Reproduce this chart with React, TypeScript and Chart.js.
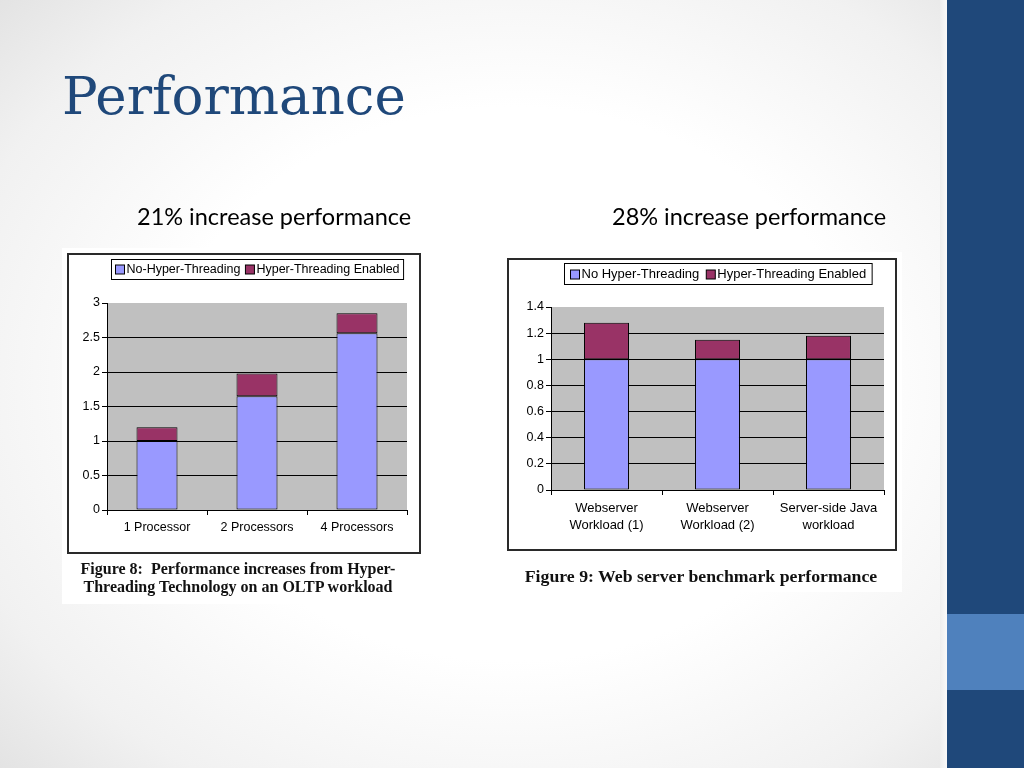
import React, { useEffect, useRef } from "react";
import { Chart, registerables } from "chart.js";

Chart.register(...registerables);

// ---- Data ----
const procCategories = ["1 Processor", "2 Processors", "4 Processors"];
const procNoHT = [1.0, 1.65, 2.56];
const procHTGain = [0.2, 0.33, 0.29];
const procLegend = ["No-Hyper-Threading", "Hyper-Threading Enabled"];
const procYMax = 3;
const procYStep = 0.5;

const webCategories = [
  ["Webserver", "Workload (1)"],
  ["Webserver", "Workload (2)"],
  ["Server-side Java", "workload"],
];
const webNoHT = [1.0, 1.0, 1.0];
const webHTGain = [0.28, 0.15, 0.18];
const webLegend = ["No Hyper-Threading", "Hyper-Threading Enabled"];
const webYMax = 1.4;
const webYStep = 0.2;

const BLUE = "#9999ff";
const MAROON = "#993366";
const FONT = "'Liberation Sans', Arial, sans-serif";

const plotBgPlugin = {
  id: "plotBg",
  beforeDraw(chart: any) {
    const { ctx, chartArea } = chart;
    ctx.save();
    ctx.fillStyle = "#c0c0c0";
    ctx.fillRect(chartArea.left, chartArea.top, chartArea.right - chartArea.left, chartArea.bottom - chartArea.top);
    ctx.restore();
  },
};

const boxLegendPlugin = {
  id: "boxLegend",
  afterDraw(chart: any, _args: any, opts: any) {
    const { ctx, chartArea } = chart;
    const ds = chart.data.datasets;
    ctx.save();
    ctx.font = `${opts.fontSize}px ${FONT}`;
    const pad = opts.pad, sw = 9, gap = 2, itemGap = opts.itemGap;
    const widths = ds.map((d: any) => ctx.measureText(d.label).width);
    let total = pad * 2;
    widths.forEach((w: number, i: number) => {
      total += sw + gap + w + (i < widths.length - 1 ? itemGap : 0);
    });
    const cx = (chartArea.left + chartArea.right) / 2;
    const x0 = Math.round(cx - total / 2) + 0.5;
    const y0 = opts.top + 0.5;
    const h = opts.height;
    ctx.lineWidth = 1;
    ctx.strokeStyle = "#000";
    ctx.fillStyle = "#fff";
    ctx.fillRect(x0, y0, total, h);
    ctx.strokeRect(x0, y0, total, h);
    let x = x0 + pad;
    const midY = y0 + h / 2;
    ds.forEach((d: any, i: number) => {
      ctx.fillStyle = d.backgroundColor;
      ctx.fillRect(x, Math.round(midY - sw / 2), sw, sw);
      ctx.strokeStyle = "#000";
      ctx.strokeRect(x, Math.round(midY - sw / 2), sw, sw);
      x += sw + gap;
      ctx.fillStyle = "#000";
      ctx.textBaseline = "middle";
      ctx.textAlign = "left";
      ctx.fillText(d.label, x, midY + 0.5);
      x += widths[i] + itemGap;
    });
    ctx.restore();
  },
};

function makeConfig(p: {
  labels: any[];
  base: number[];
  gain: number[];
  legend: string[];
  yMax: number;
  yStep: number;
  yWidth: number;
  xHeight: number;
  top: number;
  right: number;
  barPct: number;
  legendTop: number;
  legendHeight: number;
  legendFont: number;
  legendPad: number;
  legendGap: number;
  xPad: number;
  xFont: number;
  xLineHeight: number;
}) {
  return {
    type: "bar" as const,
    data: {
      labels: p.labels,
      datasets: [
        {
          label: p.legend[0],
          data: p.base,
          backgroundColor: BLUE,
          borderColor: "#000",
          borderWidth: 1,
          borderSkipped: false,
          barPercentage: p.barPct,
          categoryPercentage: 1,
        },
        {
          label: p.legend[1],
          data: p.gain,
          backgroundColor: MAROON,
          borderColor: "#000",
          borderWidth: 1,
          borderSkipped: false,
          barPercentage: p.barPct,
          categoryPercentage: 1,
        },
      ],
    },
    options: {
      animation: false,
      responsive: false,
      maintainAspectRatio: false,
      layout: { padding: { top: p.top, right: p.right, left: 0, bottom: 0 } },
      plugins: {
        legend: { display: false },
        tooltip: { enabled: false },
        boxLegend: {
          top: p.legendTop,
          height: p.legendHeight,
          fontSize: p.legendFont,
          pad: p.legendPad,
          itemGap: p.legendGap,
        },
      },
      scales: {
        x: {
          stacked: true,
          afterFit: (s: any) => {
            s.height = p.xHeight;
          },
          grid: {
            offset: true,
            drawOnChartArea: false,
            drawTicks: true,
            tickLength: 5,
            color: "#000",
            tickColor: "#000",
          },
          border: { display: true, color: "#000", width: 1 },
          ticks: {
            color: "#000",
            padding: p.xPad,
            maxRotation: 0,
            autoSkip: false,
            font: { family: FONT, size: p.xFont, lineHeight: p.xLineHeight },
          },
        },
        y: {
          stacked: true,
          min: 0,
          max: p.yMax,
          afterFit: (s: any) => {
            s.width = p.yWidth;
          },
          grid: {
            color: (c: any) => (c.tick && Math.abs(c.tick.value - p.yMax) < 1e-9 ? "rgba(0,0,0,0)" : "#000"),
            tickColor: "#000",
            tickLength: 5,
            lineWidth: 1,
          },
          border: { display: true, color: "#000", width: 1 },
          ticks: {
            stepSize: p.yStep,
            color: "#000",
            padding: 2,
            font: { family: FONT, size: 12.5 },
            callback: (v: any) => String(Math.round(Number(v) * 10) / 10),
          },
        },
      },
    },
    plugins: [plotBgPlugin, boxLegendPlugin],
  };
}

function BarChart(props: { width: number; height: number; config: any }) {
  const ref = useRef<HTMLCanvasElement>(null);
  useEffect(() => {
    if (!ref.current) return;
    const chart = new Chart(ref.current, props.config);
    return () => chart.destroy();
  }, []);
  return <canvas ref={ref} width={props.width} height={props.height} style={{ display: "block", width: props.width, height: props.height }} />;
}

export default function App() {
  const cfg1 = makeConfig({
    labels: procCategories,
    base: procNoHT,
    gain: procHTGain,
    legend: procLegend,
    yMax: procYMax,
    yStep: procYStep,
    yWidth: 38,
    xHeight: 42,
    top: 48,
    right: 12,
    barPct: 0.41,
    legendTop: 4,
    legendHeight: 20,
    legendFont: 12.5,
    legendPad: 4,
    legendGap: 5,
    xPad: 5,
    xFont: 12.5,
    xLineHeight: 1.2,
  });
  const cfg2 = makeConfig({
    labels: webCategories,
    base: webNoHT,
    gain: webHTGain,
    legend: webLegend,
    yMax: webYMax,
    yStep: webYStep,
    yWidth: 42,
    xHeight: 59,
    top: 47,
    right: 11,
    barPct: 0.405,
    legendTop: 3,
    legendHeight: 21,
    legendFont: 13,
    legendPad: 6,
    legendGap: 7,
    xPad: 5,
    xFont: 13,
    xLineHeight: 1.31,
  });

  return (
    <div
      style={{
        position: "fixed",
        left: 0,
        top: 0,
        width: 1024,
        height: 768,
        overflow: "hidden",
        background: "radial-gradient(ellipse 75% 80% at 50% 50%, #ffffff 45%, #f1f1f1 75%, #dcdcdc 100%)",
      }}
    >
      {/* right sidebar */}
      <div style={{ position: "absolute", left: 940, top: 0, width: 7, height: 768, background: "linear-gradient(to right, #eeeeee, #fafafa)" }} />
      <div style={{ position: "absolute", left: 947, top: 0, width: 77, height: 768, background: "#1f487a" }} />
      <div style={{ position: "absolute", left: 947, top: 614, width: 77, height: 76, background: "#4f81bd" }} />

      {/* title */}
      <div
        style={{
          position: "absolute",
          left: 62,
          top: 66,
          fontFamily: "'DejaVu Serif', serif",
          fontSize: 53,
          lineHeight: "60px",
          color: "#1f487a",
          whiteSpace: "nowrap",
        }}
      >
        Performance
      </div>

      {/* subtitles */}
      <div style={{ position: "absolute", left: 137, top: 201, fontFamily: "Lato, sans-serif", fontSize: 23.5, lineHeight: "30px", color: "#000", whiteSpace: "nowrap" }}>
        21% increase performance
      </div>
      <div style={{ position: "absolute", left: 612, top: 201, fontFamily: "Lato, sans-serif", fontSize: 23.5, lineHeight: "30px", color: "#000", whiteSpace: "nowrap" }}>
        28% increase performance
      </div>

      {/* figure 8 */}
      <div style={{ position: "absolute", left: 62, top: 248, width: 364, height: 356, background: "#fff" }} />
      <div style={{ position: "absolute", left: 67, top: 253, border: "2px solid #2a2a2a", background: "#fff" }}>
        <BarChart width={350} height={297} config={cfg1} />
      </div>
      <div
        style={{
          position: "absolute",
          left: 40,
          top: 560,
          width: 396,
          textAlign: "center",
          fontFamily: "'Liberation Serif', serif",
          fontWeight: "bold",
          fontSize: 16,
          lineHeight: "18px",
          color: "#111",
          whiteSpace: "nowrap",
        }}
      >
        Figure 8:&nbsp; Performance increases from Hyper-
        <br />
        Threading Technology on an OLTP workload
      </div>

      {/* figure 9 */}
      <div style={{ position: "absolute", left: 500, top: 252, width: 402, height: 340, background: "#fff" }} />
      <div style={{ position: "absolute", left: 507, top: 258, border: "2px solid #2a2a2a", background: "#fff" }}>
        <BarChart width={386} height={289} config={cfg2} />
      </div>
      <div
        style={{
          position: "absolute",
          left: 500,
          top: 565,
          width: 402,
          textAlign: "center",
          fontFamily: "'Liberation Serif', serif",
          fontWeight: "bold",
          fontSize: 17.75,
          lineHeight: "22px",
          color: "#111",
          whiteSpace: "nowrap",
        }}
      >
        Figure 9: Web server benchmark performance
      </div>
    </div>
  );
}
